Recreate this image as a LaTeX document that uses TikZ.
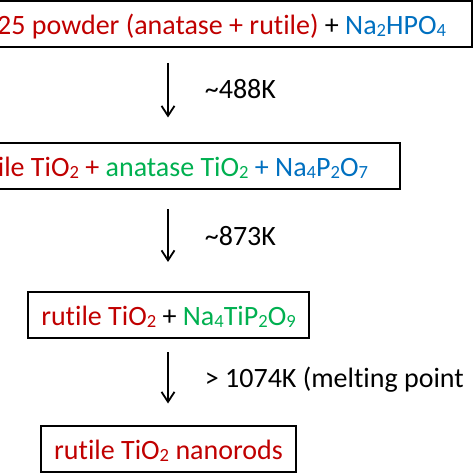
\documentclass[tikz,border=0pt]{standalone}
\usepackage{fontspec}
\setmainfont{Carlito}[Ligatures=NoCommon]
\usepackage{tikz}
\usetikzlibrary{arrows.meta}
\usetikzlibrary{positioning}
\definecolor{rutred}{RGB}{192,0,0}
\definecolor{anagreen}{RGB}{0,176,80}
\definecolor{nablue}{RGB}{0,112,192}
\newcommand{\chsub}[1]{\raisebox{-1pt}{\fontsize{9.3pt}{10pt}\selectfont #1}}

\begin{document}
\begin{tikzpicture}[x=0.5pt,y=-0.5pt,
              font=\fontsize{14pt}{16pt}\selectfont,
              stagebox/.style={draw,line width=1pt,inner xsep=6.5pt,inner ysep=0pt,
                outer sep=0pt,minimum height=23pt,text height=12pt,text depth=1.5pt},
              heat/.style={line width=0.9pt,-{Straight Barb[length=5pt,width=6.5pt]}},
              temp/.style={inner sep=0pt,text height=12pt,text depth=1.5pt}]
  \useasboundingbox (0,0) rectangle (474,474);
  \coordinate (axis) at (168,0);
  \node[stagebox,inner xsep=13pt,anchor=east] (mix) at (472,24)
    {\textcolor{rutred}{25 powder (anatase + rutile)} + \textcolor{nablue}{Na\chsub{2}HPO\chsub{4}}};
  \node[stagebox,inner xsep=16pt,anchor=east] (pyro) at (400,166.5)
    {\textcolor{rutred}{ile TiO\chsub{2} +} \textcolor{anagreen}{anatase TiO\chsub{2}} \textcolor{nablue}{+ Na\chsub{4}P\chsub{2}O\chsub{7}}};
  \node[stagebox] (titan) at (168.5,315)
    {\textcolor{rutred}{rutile TiO\chsub{2}} + \textcolor{anagreen}{Na\chsub{4}TiP\chsub{2}O\chsub{9}}};
  \node[stagebox] (rods) at (168.5,448.5)
    {\textcolor{rutred}{rutile TiO\chsub{2} nanorods}};
  \draw[heat,shorten <=8pt,shorten >=13pt] (mix.south -| axis) -- (pyro.north -| axis)
    node[temp,pos=0.43,right=18pt] (t488) {\textasciitilde 488K};
  \draw[heat,shorten <=10pt,shorten >=15pt] (pyro.south -| axis) -- (titan.north -| axis)
    node[temp,pos=0.44,right=18pt] (t873) {\textasciitilde 873K};
  \draw[heat,shorten <=7pt,shorten >=11pt] (titan.south -| axis) -- (rods.north -| axis)
    node[temp,pos=0.45,right=18pt] (t1074) {> 1074K (melting point};
\end{tikzpicture}
\end{document}
